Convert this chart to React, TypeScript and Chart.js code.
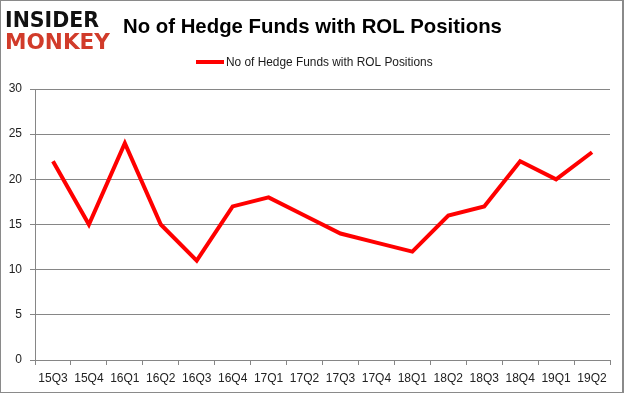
import React, { useEffect, useRef } from "react";
import { Chart, registerables } from "chart.js";

Chart.register(...registerables);

const categories = ["15Q3","15Q4","16Q1","16Q2","16Q3","16Q4","17Q1","17Q2","17Q3","17Q4","18Q1","18Q2","18Q3","18Q4","19Q1","19Q2"];
const hedgeFunds = [22, 15, 24, 15, 11, 17, 18, 16, 14, 13, 12, 16, 17, 22, 20, 23];
const seriesLabel = "No of Hedge Funds with ROL Positions";
const chartTitle = "No of Hedge Funds with ROL Positions";
const yTicks = [0, 5, 10, 15, 20, 25, 30];

const GRID = "#868686";

function fitFont(ctx: CanvasRenderingContext2D, text: string, weight: string, family: string, base: number, target: number) {
  ctx.font = `${weight} ${base}px ${family}`;
  const w = ctx.measureText(text).width;
  const size = (base * target) / w;
  ctx.font = `${weight} ${size}px ${family}`;
}

const decorPlugin = {
  id: "decor",
  beforeDraw(chart: any) {
    const ctx = chart.ctx as CanvasRenderingContext2D;
    ctx.save();
    ctx.fillStyle = "#ffffff";
    ctx.fillRect(0, 0, chart.width, chart.height);
    ctx.restore();
  },
  afterDraw(chart: any) {
    const ctx = chart.ctx as CanvasRenderingContext2D;
    ctx.save();
    // outer frame
    ctx.strokeStyle = "#8a8a8a";
    ctx.lineWidth = 1;
    ctx.strokeRect(0.5, 0.5, 623, 392);
    ctx.beginPath();
    ctx.moveTo(622.5, 0);
    ctx.lineTo(622.5, 393);
    ctx.stroke();

    // logo
    ctx.textBaseline = "alphabetic";
    ctx.textAlign = "left";
    ctx.fillStyle = "#111111";
    fitFont(ctx, "INSIDER", "bold", '"DejaVu Sans"', 26, 94);
    ctx.fillText("INSIDER", 5, 27);
    ctx.fillStyle = "#d13b2a";
    fitFont(ctx, "MONKEY", "bold", '"DejaVu Sans"', 26, 105);
    ctx.fillText("MONKEY", 5, 49);

    // title
    ctx.fillStyle = "#000000";
    fitFont(ctx, chartTitle, "bold", '"Liberation Sans"', 22, 379);
    ctx.fillText(chartTitle, 123, 33);

    // legend
    const ds = chart.data.datasets[0];
    ctx.strokeStyle = ds.borderColor;
    ctx.lineWidth = 4;
    ctx.beginPath();
    ctx.moveTo(196, 62);
    ctx.lineTo(224, 62);
    ctx.stroke();
    ctx.fillStyle = "#1a1a1a";
    fitFont(ctx, ds.label, "normal", '"Liberation Sans"', 12, 207);
    ctx.fillText(ds.label, 226, 66);
    ctx.restore();
  },
};

export default function App() {
  const ref = useRef<HTMLCanvasElement | null>(null);
  useEffect(() => {
    document.body.style.margin = "0";
    if (!ref.current) return;
    const chart = new Chart(ref.current, {
      type: "line",
      data: {
        labels: categories,
        datasets: [
          {
            label: seriesLabel,
            data: hedgeFunds,
            borderColor: "#ff0000",
            backgroundColor: "#ff0000",
            borderWidth: 4,
            pointRadius: 0,
            pointHoverRadius: 0,
            tension: 0,
            fill: false,
          },
        ],
      },
      options: {
        animation: false,
        responsive: false,
        devicePixelRatio: 1,
        layout: { padding: { top: 89, right: 15, left: 0, bottom: 0 } },
        plugins: {
          legend: { display: false },
          title: { display: false },
          tooltip: { enabled: false },
        },
        scales: {
          x: {
            offset: true,
            grid: { offset: true, drawOnChartArea: false, drawTicks: true, tickLength: 5, color: GRID },
            border: { display: true, color: GRID },
            ticks: {
              color: "#222222",
              font: { family: '"Liberation Sans"', size: 12 },
              padding: 6,
              maxRotation: 0,
              autoSkip: false,
            },
            afterFit: (s: any) => { s.height = 35; },
          },
          y: {
            min: 0,
            max: 30,
            afterBuildTicks: (s: any) => { s.ticks = yTicks.map((v) => ({ value: v })); },
            grid: { color: GRID, tickLength: 5, drawTicks: true },
            border: { display: true, color: GRID },
            ticks: {
              color: "#222222",
              font: { family: '"Liberation Sans"', size: 12 },
              padding: 8,
            },
            afterFit: (s: any) => { s.width = 35; },
          },
        },
      },
      plugins: [decorPlugin],
    });
    return () => chart.destroy();
  }, []);
  return (
    <div style={{ position: "absolute", left: 0, top: 0, width: 625, height: 395 }}>
      <canvas ref={ref} width={625} height={395} style={{ display: "block", width: 625, height: 395 }} />
    </div>
  );
}
